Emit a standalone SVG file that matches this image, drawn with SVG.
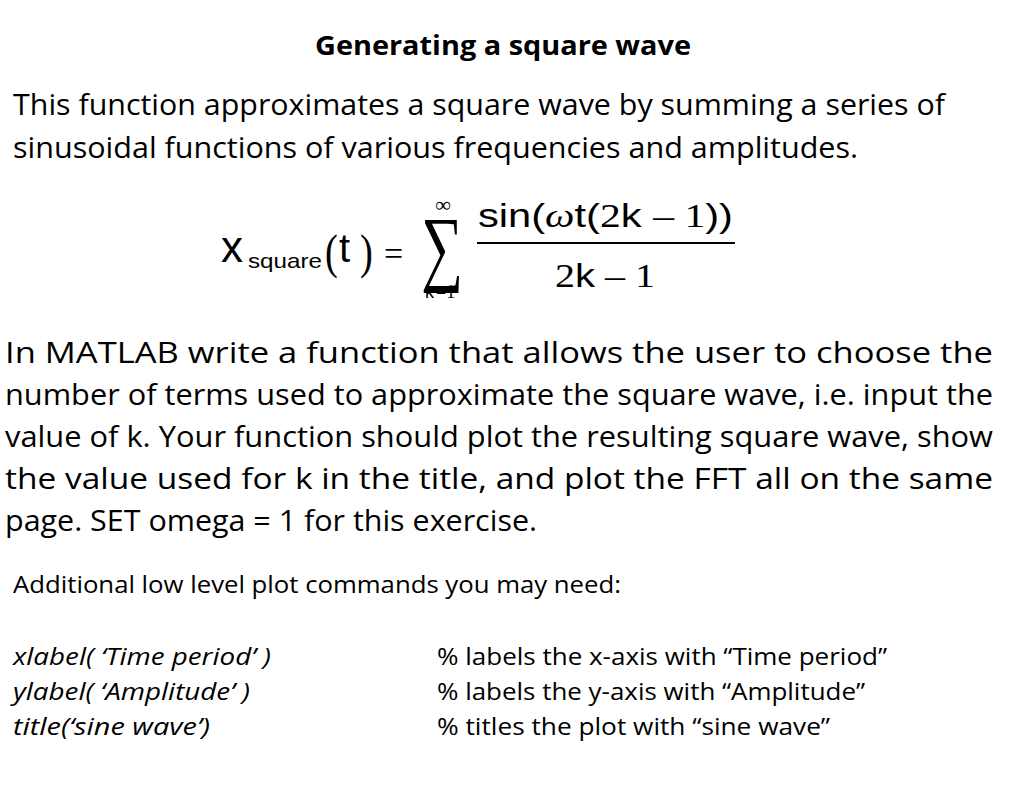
<svg xmlns="http://www.w3.org/2000/svg" width="1024" height="785" viewBox="0 0 1024 785">
<style>
text{font-family:"Open Sans","Liberation Sans",sans-serif;fill:#000}
.b{font-size:29px}
.s{font-size:24px}
.i{font-size:24px;font-style:italic}
.m{font-family:"Liberation Sans",Arial,sans-serif}
.t{font-family:"Liberation Serif","Times New Roman",serif}
</style>
<rect width="1024" height="785" fill="#fff"/>
<g id="title"><text x="503" y="55" font-size="26" font-weight="bold" text-anchor="middle" textLength="376" lengthAdjust="spacingAndGlyphs">Generating a square wave</text></g>
<g id="intro">
<text class="b" x="13" y="115" textLength="932" lengthAdjust="spacingAndGlyphs">This function approximates a square wave by summing a series of</text>
<text class="b" x="13" y="158" textLength="845" lengthAdjust="spacingAndGlyphs">sinusoidal functions of various frequencies and amplitudes.</text>
</g>
<g id="formula">
<text class="m" x="221" y="262" font-size="44">x</text>
<text class="m" x="248" y="268" font-size="21" textLength="74" lengthAdjust="spacingAndGlyphs">square</text>
<text class="t" x="325" y="268" font-size="48" transform="translate(325 268) scale(0.8 1) translate(-325 -268)">(</text>
<text class="m" x="339" y="262" font-size="40">t</text>
<text class="t" x="360" y="268" font-size="48" transform="translate(360 268) scale(0.8 1) translate(-360 -268)">)</text>
<text class="t" x="384" y="265" font-size="34">=</text>
<text class="t" x="421" y="275" font-size="84" textLength="42" lengthAdjust="spacingAndGlyphs">∑</text>
<text class="t" x="443" y="212" font-size="22" text-anchor="middle">∞</text>
<text class="m" x="425" y="298" font-size="18">k</text>
<text class="t" x="436" y="298" font-size="18">=1</text>
<text class="m" x="478" y="227" font-size="34" textLength="255" lengthAdjust="spacingAndGlyphs">sin(<tspan class="t" font-style="italic">ω</tspan>t(<tspan class="t">2</tspan>k <tspan class="t">– 1</tspan>))</text>
<line x1="477" y1="243" x2="735" y2="243" stroke="#000" stroke-width="2"/>
<text class="t" x="555" y="287" font-size="34" textLength="100" lengthAdjust="spacingAndGlyphs">2<tspan class="m">k</tspan> – 1</text>
</g>
<g id="task">
<text class="b" x="5" y="363" textLength="988" lengthAdjust="spacingAndGlyphs">In MATLAB write a function that allows the user to choose the</text>
<text class="b" x="5" y="405" textLength="988" lengthAdjust="spacingAndGlyphs">number of terms used to approximate the square wave, i.e. input the</text>
<text class="b" x="5" y="447" textLength="988" lengthAdjust="spacingAndGlyphs">value of k. Your function should plot the resulting square wave, show</text>
<text class="b" x="5" y="489" textLength="988" lengthAdjust="spacingAndGlyphs">the value used for k in the title, and plot the FFT all on the same</text>
<text class="b" x="5" y="531" textLength="532" lengthAdjust="spacingAndGlyphs">page. SET omega = 1 for this exercise.</text>
</g>
<g id="commands">
<text class="s" x="13" y="593" textLength="608" lengthAdjust="spacingAndGlyphs">Additional low level plot commands you may need:</text>
<text class="i" x="13" y="665" textLength="258" lengthAdjust="spacingAndGlyphs">xlabel( ‘Time period’ )</text>
<text class="i" x="13" y="700" textLength="237" lengthAdjust="spacingAndGlyphs">ylabel( ‘Amplitude’ )</text>
<text class="i" x="13" y="735" textLength="197" lengthAdjust="spacingAndGlyphs">title(‘sine wave’)</text>
<text class="s" x="437" y="665" textLength="450" lengthAdjust="spacingAndGlyphs">% labels the x-axis with “Time period”</text>
<text class="s" x="437" y="700" textLength="428" lengthAdjust="spacingAndGlyphs">% labels the y-axis with “Amplitude”</text>
<text class="s" x="437" y="735" textLength="393" lengthAdjust="spacingAndGlyphs">% titles the plot with “sine wave”</text>
</g>
</svg>
